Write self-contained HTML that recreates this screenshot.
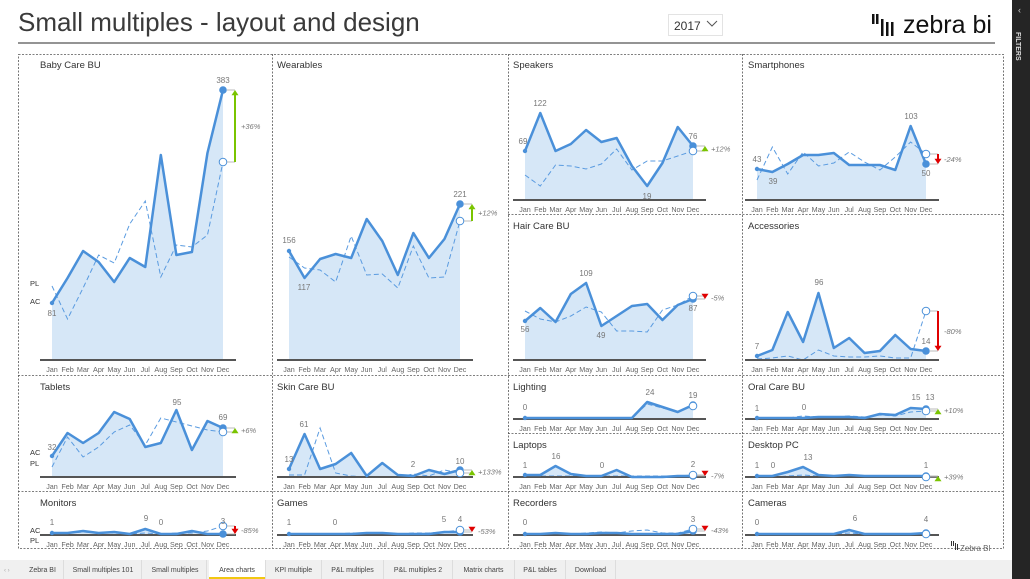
<!DOCTYPE html>
<html><head><meta charset="utf-8"><style>
html,body{margin:0;padding:0;width:1030px;height:579px;overflow:hidden;background:#fff;font-family:"Liberation Sans",sans-serif}
svg{display:block}
</style></head><body>
<svg id="s" width="1030" height="579" viewBox="0 0 1030 579" xmlns="http://www.w3.org/2000/svg" font-family="Liberation Sans, sans-serif">
<rect x="0" y="0" width="1030" height="579" fill="#fff"/>
<text x="18" y="31" font-size="26" fill="#3a3a3a">Small multiples - layout and design</text>
<line x1="18" y1="43" x2="995" y2="43" stroke="#555" stroke-width="1.3"/>
<rect x="668.5" y="14.5" width="54" height="21" fill="#fff" stroke="#e3e3e3"/>
<text x="674" y="30" font-size="12" fill="#333">2017</text>
<path d="M707 21 l5 5 l5 -5" fill="none" stroke="#555" stroke-width="1"/>
<g fill="#111"><rect x="872" y="14" width="2.5" height="10"/><rect x="876" y="14" width="2.5" height="10"/><rect x="881" y="19" width="2.5" height="17"/><rect x="886" y="22" width="2.5" height="14"/><rect x="891" y="22" width="2.5" height="14"/></g>
<text x="903" y="33" font-size="25" fill="#111">zebra bi</text>
<rect x="1012" y="0" width="18" height="579" fill="#252525"/>
<text x="1018" y="13" font-size="9" fill="#ccc">‹</text>
<text transform="translate(1016,32) rotate(90)" font-size="7" fill="#ddd" font-weight="bold">FILTERS</text>
<g id="frames" fill="none" stroke="#555" stroke-width="0.8" stroke-dasharray="2,1.5">
<rect x="18.5" y="54.5" width="985" height="494"/>
<line x1="272.5" y1="54" x2="272.5" y2="548"/>
<line x1="508.5" y1="54" x2="508.5" y2="548"/>
<line x1="742.5" y1="54" x2="742.5" y2="548"/>
<line x1="18" y1="375.5" x2="1003" y2="375.5"/>
<line x1="18" y1="491.5" x2="1003" y2="491.5"/>
<line x1="508" y1="214.5" x2="1003" y2="214.5"/>
<line x1="508" y1="433.5" x2="1003" y2="433.5"/>
</g>
<g id="p"></g>
<g fill="#333"><rect x="951" y="541" width="1" height="5"/><rect x="953" y="541" width="1" height="5"/><rect x="955" y="543" width="1" height="7"/><rect x="957" y="544" width="1" height="6"/></g>
<text x="960" y="551" font-size="8" fill="#666">Zebra BI</text>
<rect x="0" y="560" width="1012" height="19" fill="#f0f0f0"/>
<g id="tabs" font-size="7" fill="#444"></g>
</svg>
<script>
var NS="http://www.w3.org/2000/svg",P=document.getElementById('p');
function el(t,a,txt){var e=document.createElementNS(NS,t);for(var k in a)e.setAttribute(k,a[k]);if(txt!=null)e.textContent=txt;return e;}
var M=['Jan','Feb','Mar','Apr','May','Jun','Jul','Aug','Sep','Oct','Nov','Dec'];
function panel(o){
 var x0=o.x0,x1=o.x1,b=o.b,st=(x1-x0)/11,g=el('g',{});P.appendChild(g);
 g.appendChild(el('text',{x:o.tx,y:o.ty,'font-size':9.5,fill:'#333'},o.t));
 var X=function(i){return x0+i*st};
 var ap='M'+X(0)+' '+b;o.ac.forEach(function(v,i){ap+=' L'+X(i)+' '+v});ap+=' L'+X(11)+' '+b+'Z';
 g.appendChild(el('path',{d:ap,fill:'#d6e7f7'}));
 var pl=o.pl.map(function(v,i){return X(i)+','+v}).join(' ');
 g.appendChild(el('polyline',{points:pl,fill:'none',stroke:'#5a9be0','stroke-width':1,'stroke-dasharray':'5,3'}));
 g.appendChild(el('line',{x1:x0-12,y1:b,x2:x1+13,y2:b,stroke:'#555','stroke-width':2}));
 var ac=o.ac.map(function(v,i){return X(i)+','+v}).join(' ');
 g.appendChild(el('polyline',{points:ac,fill:'none',stroke:'#4a90d9','stroke-width':2.5,'stroke-linejoin':'round'}));
 g.appendChild(el('circle',{cx:X(0),cy:o.ac[0],r:2.2,fill:'#4a90d9'}));
 g.appendChild(el('circle',{cx:X(11),cy:o.ac[11],r:3.8,fill:'#4a90d9'}));
 g.appendChild(el('circle',{cx:X(11),cy:o.pl[11],r:3.8,fill:'#fff',stroke:'#4a90d9','stroke-width':1}));
 M.forEach(function(m,i){g.appendChild(el('text',{x:X(i),y:b+12,'font-size':7.2,fill:'#666','text-anchor':'middle'},m))});
 (o.lab||[]).forEach(function(l){g.appendChild(el('text',{x:l[0],y:l[1],'font-size':8,fill:'#777','text-anchor':'middle'},l[2]))});
 if(o.pct){var ax=X(11)+12,a=o.ac[11],p=o.pl[11],col=o.up?'#7ac400':'#e00000';
  g.appendChild(el('line',{x1:X(11)+4,y1:a,x2:ax,y2:a,stroke:'#aaa','stroke-width':0.8}));
  g.appendChild(el('line',{x1:X(11)+4,y1:p,x2:ax,y2:p,stroke:'#aaa','stroke-width':0.8}));
  var tip=o.up?Math.min(a,p):Math.max(a,p),tail=o.up?Math.max(a,p):Math.min(a,p),d=o.up?4:-4;
  if(Math.abs(a-p)>6)g.appendChild(el('line',{x1:ax,y1:tail,x2:ax,y2:tip+d,stroke:col,'stroke-width':2}));
  g.appendChild(el('path',{d:'M'+(ax-3.5)+' '+(tip+d*1.3)+' L'+(ax+3.5)+' '+(tip+d*1.3)+' L'+ax+' '+tip+'Z',fill:col}));
  g.appendChild(el('text',{x:ax+6,y:(a+p)/2+3,'font-size':7.5,fill:'#777','font-style':'italic'},o.pct));}
 if(o.acpl){g.appendChild(el('text',{x:x0-22,y:o.acpl[0],'font-size':7.5,fill:'#333'},'AC'));g.appendChild(el('text',{x:x0-22,y:o.acpl[1],'font-size':7.5,fill:'#333'},'PL'));}
}
function flat(b,arr){return arr.map(function(v){return b-v})}
// Column 1 & 2 top
panel({t:'Baby Care BU',tx:40,ty:68,x0:52,x1:223,b:360,
 ac:[303,278,251,262,282,258,267,155,255,252,153,90],
 pl:[286,319,288,255,263,224,201,277,245,247,235,162],
 lab:[[52,316,'81'],[223,83,'383']],pct:'+36%',up:1,acpl:[304,286]});
panel({t:'Wearables',tx:277,ty:68,x0:289,x1:460,b:360,
 ac:[251,278,259,254,258,219,241,275,233,258,239,204],
 pl:[257,268,270,282,236,275,274,288,246,278,277,221],
 lab:[[289,243,'156'],[304,290,'117'],[460,197,'221']],pct:'+12%',up:1});
panel({t:'Speakers',tx:513,ty:68,x0:525,x1:693,b:200,
 ac:[151,113,151,144,130,142,138,166,186,163,127,146],
 pl:[175,186,165,166,169,164,149,170,161,161,156,151],
 lab:[[523,144,'69'],[540,106,'122'],[647,199,'19'],[693,139,'76']],pct:'+12%',up:1});
panel({t:'Smartphones',tx:748,ty:68,x0:757,x1:926,b:200,
 ac:[169,172,164,155,155,153,165,165,165,170,126,164],
 pl:[180,147,174,152,166,163,152,162,170,157,142,154],
 lab:[[757,162,'43'],[773,184,'39'],[911,119,'103'],[926,176,'50']],pct:'-24%',up:0});
panel({t:'Hair Care BU',tx:513,ty:229,x0:525,x1:693,b:360,
 ac:[321,308,322,294,283,326,316,306,304,320,305,299],
 pl:[311,319,322,316,307,312,331,331,332,310,305,296],
 lab:[[525,332,'56'],[586,276,'109'],[601,338,'49'],[693,311,'87']],pct:'-5%',up:0});
panel({t:'Accessories',tx:748,ty:229,x0:757,x1:926,b:360,
 ac:[356,350,312,342,293,348,338,353,351,335,349,351],
 pl:[359,358,356,360,350,356,357,357,356,358,358,311],
 lab:[[757,349,'7'],[819,285,'96'],[926,344,'14']],pct:'-80%',up:0});
panel({t:'Tablets',tx:40,ty:390,x0:52,x1:223,b:477,
 ac:[456,433,443,433,412,419,447,443,410,450,421,428],
 pl:[467,437,457,447,432,425,445,418,422,426,430,432],
 lab:[[52,450,'32'],[177,405,'95'],[223,420,'69']],pct:'+6%',up:1,acpl:[455,466]});
panel({t:'Skin Care BU',tx:277,ty:390,x0:289,x1:460,b:477,
 ac:[469,434,469,464,453,476,463,475,476,470,474,470],
 pl:[475,475,428,473,476,477,477,477,474,476,470,473],
 lab:[[289,462,'13'],[304,427,'61'],[413,467,'2'],[460,464,'10']],pct:'+133%',up:1});
panel({t:'Lighting',tx:513,ty:390,x0:525,x1:693,b:419,
 ac:[418,418,418,418,418,418,418,418,402,407,412,405],
 pl:[418,418,418,418,418,418,418,418,404,408,411,406],
 lab:[[525,410,'0'],[650,395,'24'],[693,398,'19']]});
panel({t:'Oral Care BU',tx:748,ty:390,x0:757,x1:926,b:419,
 ac:[418,418,418,418,417,417,417,418,414,415,408,409],
 pl:[418,418,418,416,417,417,416,417,415,416,412,411],
 lab:[[757,411,'1'],[804,410,'0'],[916,400,'15'],[930,400,'13']],pct:'+10%',up:1});
panel({t:'Laptops',tx:513,ty:448,x0:525,x1:693,b:477,
 ac:[475,475,466,474,476,476,470,477,477,477,476,476],
 pl:[476,476,476,476,476,476,476,476,476,476,476,475],
 lab:[[525,468,'1'],[556,459,'16'],[602,468,'0'],[693,467,'2']],pct:'-7%',up:0});
panel({t:'Desktop PC',tx:748,ty:448,x0:757,x1:926,b:477,
 ac:[476,476,472,467,475,476,475,476,476,476,476,476],
 pl:[477,477,476,475,476,476,476,476,476,476,476,477],
 lab:[[757,468,'1'],[773,468,'0'],[808,460,'13'],[926,468,'1']],pct:'+39%',up:1});
panel({t:'Monitors',tx:40,ty:506,x0:52,x1:223,b:535,
 ac:[533,533,531,533,532,534,529,534,534,531,534,534],
 pl:[534,533,532,533,533,534,533,534,533,533,531,526],
 lab:[[52,525,'1'],[146,521,'9'],[161,525,'0'],[223,524,'3']],pct:'-85%',up:0,acpl:[533,543]});
panel({t:'Games',tx:277,ty:506,x0:289,x1:460,b:535,
 ac:[534,534,534,534,534,533,533,534,534,534,532,532],
 pl:[534,534,534,534,533,533,534,534,533,533,532,530],
 lab:[[289,525,'1'],[335,525,'0'],[444,522,'5'],[460,522,'4']],pct:'-53%',up:0});
panel({t:'Recorders',tx:513,ty:506,x0:525,x1:693,b:535,
 ac:[534,534,533,534,534,533,533,534,534,534,534,531],
 pl:[534,534,534,534,533,532,533,531,530,533,533,529],
 lab:[[525,525,'0'],[693,522,'3']],pct:'-43%',up:0});
panel({t:'Cameras',tx:748,ty:506,x0:757,x1:926,b:535,
 ac:[534,534,534,534,534,534,530,534,534,534,534,533],
 pl:[534,534,534,534,534,534,533,534,534,534,534,534],
 lab:[[757,525,'0'],[855,521,'6'],[926,522,'4']]});
var T=document.getElementById('tabs');
T.appendChild(el('text',{x:4,y:572,'font-size':6,fill:'#aaa'},'‹  ›'));
[[22,63,'Zebra BI'],[65,141,'Small multiples 101'],[144,206,'Small multiples'],[209,265,'Area charts'],[266,321,'KPI multiple'],[322,383,'P&L multiples'],[384,452,'P&L multiples 2'],[453,514,'Matrix charts'],[515,565,'P&L tables'],[566,615,'Download']].forEach(function(t){
 T.appendChild(el('line',{x1:t[1]+0.5,y1:560,x2:t[1]+0.5,y2:579,stroke:'#ddd'}));
 if(t[2]=='Area charts'){T.appendChild(el('rect',{x:t[0],y:560,width:t[1]-t[0],height:19,fill:'#fff'}));T.appendChild(el('rect',{x:t[0],y:577,width:t[1]-t[0],height:2,fill:'#f2c811'}));}
 T.appendChild(el('text',{x:(t[0]+t[1])/2,y:572,'text-anchor':'middle'},t[2]));
});
</script>
</body></html>
